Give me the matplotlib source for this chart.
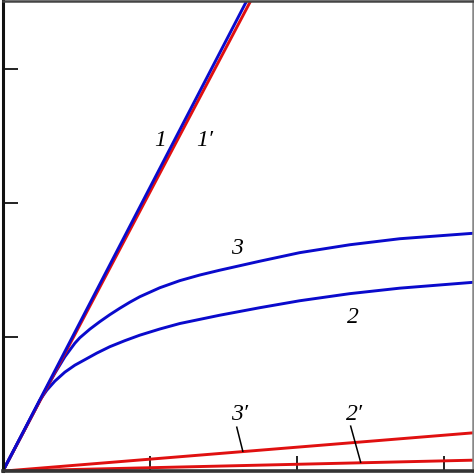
import matplotlib
matplotlib.use('Agg')
import matplotlib.pyplot as plt

# straight lines 1, 1' (blue / red) and the weak red lines 3', 2'
x_line = [0.0, 3.2]
y1 = [0.0, 6.77]
y1p = [0.0, 6.66]
y3p = [0.0, 0.286]
y2p = [0.0, 0.082]

# saturating blue curves 3 and 2
x3 = [0.0, 0.150, 0.286, 0.354, 0.422, 0.490, 0.524, 0.592, 0.660, 0.728,
      0.796, 0.864, 0.932, 1.068, 1.204, 1.340, 1.476, 1.748, 2.020, 2.361,
      2.701, 3.204]
y3 = [0.0, 0.313, 0.597, 0.731, 0.854, 0.955, 0.996, 1.060, 1.116, 1.168,
      1.216, 1.261, 1.302, 1.369, 1.422, 1.464, 1.500, 1.567, 1.631, 1.690,
      1.735, 1.776]
x2 = [0.0, 0.150, 0.252, 0.299, 0.354, 0.422, 0.490, 0.558, 0.639, 0.728,
      0.830, 0.932, 1.068, 1.204, 1.476, 1.748, 2.020, 2.361, 2.701, 3.204]
y2 = [0.0, 0.313, 0.530, 0.604, 0.672, 0.739, 0.791, 0.832, 0.881, 0.929,
      0.974, 1.015, 1.061, 1.102, 1.164, 1.220, 1.272, 1.325, 1.366, 1.410]

blue = '#0a0acc'
red = '#e01010'
lw = 2.1

fig = plt.figure(figsize=(4.74, 4.74), dpi=100)
ax = fig.add_axes([0.006, 0.006, 0.992, 0.992])

ax.plot(x3, y3, color=blue, lw=lw, solid_joinstyle='round')
ax.plot(x2, y2, color=blue, lw=lw, solid_joinstyle='round')
ax.plot(x_line, y1p, color=red, lw=lw)
ax.plot(x_line, y1, color=blue, lw=lw)
ax.plot(x_line, y3p, color=red, lw=lw)
ax.plot(x_line, y2p, color=red, lw=lw)

ax.set_xlim(0, 3.2)
ax.set_ylim(0, 3.51)
ax.set_xticks([1, 2, 3])
ax.set_yticks([1, 2, 3])
ax.set_xticklabels([])
ax.set_yticklabels([])
ax.tick_params(direction='in', length=11, width=1.4, color='#222222')

ax.spines['left'].set_linewidth(2.2)
ax.spines['left'].set_color('#111111')
ax.spines['bottom'].set_linewidth(2.6)
ax.spines['bottom'].set_color('#333333')
ax.spines['top'].set_linewidth(1.8)
ax.spines['top'].set_color('#444444')
ax.spines['right'].set_linewidth(1.8)
ax.spines['right'].set_color('#888888')

fam = ['Liberation Serif', 'DejaVu Serif']
kw = dict(fontsize=17, style='italic', family=fam, ha='center', va='center')
ax.text(1.068, 2.47, '1', **kw)
ax.text(1.375, 2.47, '1\u2032', **kw)
ax.text(1.592, 1.66, '3', **kw)
ax.text(2.380, 1.15, '2', **kw)
ax.text(1.612, 0.42, '3\u2032', **kw)
ax.text(2.395, 0.42, '2\u2032', **kw)

# leader lines to 3' and 2'
ax.plot([1.592, 1.633], [0.328, 0.149], color='black', lw=1.1)
ax.plot([2.367, 2.435], [0.336, 0.067], color='black', lw=1.1)

fig.savefig('out.png', dpi=100)
